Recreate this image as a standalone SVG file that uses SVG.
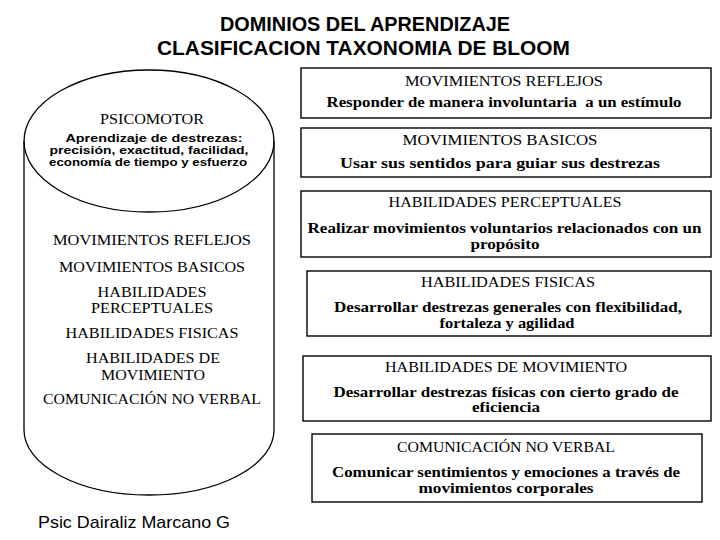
<svg xmlns="http://www.w3.org/2000/svg" width="720" height="540" viewBox="0 0 720 540">
<style>
.bg{fill:#ffffff}
.shape{fill:none;stroke:#000;stroke-width:1.3}
.box{fill:#fff;stroke:#000;stroke-width:1.4}
.title{font-family:"Liberation Sans",Arial,sans-serif;font-weight:bold;font-size:20px;fill:#000;text-anchor:middle}
.sans{font-family:"Liberation Sans",Arial,sans-serif;font-weight:bold;font-size:11.5px;fill:#000;text-anchor:middle}
.head{font-family:"Liberation Serif","Times New Roman",serif;font-size:14px;fill:#000;text-anchor:middle}
.desc{font-family:"Liberation Serif","Times New Roman",serif;font-weight:bold;font-size:14px;fill:#000;text-anchor:middle}
.foot{font-family:"Liberation Sans",Arial,sans-serif;font-size:17px;fill:#000}
</style>
<rect class="bg" x="0" y="0" width="720" height="540"/>

<g id="title">
<text class="title" x="365" y="31" textLength="290" lengthAdjust="spacingAndGlyphs">DOMINIOS DEL APRENDIZAJE</text>
<text class="title" x="363.5" y="55" textLength="413" lengthAdjust="spacingAndGlyphs">CLASIFICACION TAXONOMIA DE BLOOM</text>
</g>

<g id="psicomotor">
<path class="shape" d="M24,141 L24,430 A125,65 0 0 0 274,430 L274,141"/>
<ellipse class="shape" cx="149" cy="141" rx="125" ry="71"/>
<text class="head" x="152" y="124" textLength="104" lengthAdjust="spacingAndGlyphs">PSICOMOTOR</text>
<text class="sans" x="154" y="142" textLength="177" lengthAdjust="spacingAndGlyphs">Aprendizaje de destrezas:</text>
<text class="sans" x="149" y="154" textLength="199" lengthAdjust="spacingAndGlyphs">precisión, exactitud, facilidad,</text>
<text class="sans" x="148" y="166" textLength="198" lengthAdjust="spacingAndGlyphs">economía de tiempo y  esfuerzo</text>
<text class="head" x="152" y="245" textLength="198" lengthAdjust="spacingAndGlyphs">MOVIMIENTOS REFLEJOS</text>
<text class="head" x="152" y="272" textLength="186" lengthAdjust="spacingAndGlyphs">MOVIMIENTOS BASICOS</text>
<text class="head" x="152" y="297" textLength="109" lengthAdjust="spacingAndGlyphs">HABILIDADES</text>
<text class="head" x="152" y="313" textLength="122" lengthAdjust="spacingAndGlyphs">PERCEPTUALES</text>
<text class="head" x="152" y="338" textLength="173" lengthAdjust="spacingAndGlyphs">HABILIDADES FISICAS</text>
<text class="head" x="153" y="363" textLength="134" lengthAdjust="spacingAndGlyphs">HABILIDADES DE</text>
<text class="head" x="153" y="380" textLength="104" lengthAdjust="spacingAndGlyphs">MOVIMIENTO</text>
<text class="head" x="152" y="404" textLength="218" lengthAdjust="spacingAndGlyphs">COMUNICACIÓN NO VERBAL</text>
</g>

<g id="mov-reflejos">
<rect class="box" x="301" y="68" width="410" height="50"/>
<text class="head" x="504" y="86" textLength="198" lengthAdjust="spacingAndGlyphs">MOVIMIENTOS REFLEJOS</text>
<text class="desc" x="504" y="107" textLength="355" lengthAdjust="spacingAndGlyphs" style="white-space:pre">Responder de manera involuntaria  a un estímulo</text>
</g>

<g id="mov-basicos">
<rect class="box" x="301" y="128" width="410" height="49"/>
<text class="head" x="500" y="145" textLength="195" lengthAdjust="spacingAndGlyphs">MOVIMIENTOS BASICOS</text>
<text class="desc" x="500" y="168" textLength="320" lengthAdjust="spacingAndGlyphs">Usar sus sentidos para guiar sus destrezas</text>
</g>

<g id="hab-perceptuales">
<rect class="box" x="301" y="191" width="410" height="66"/>
<text class="head" x="505" y="207" textLength="233" lengthAdjust="spacingAndGlyphs">HABILIDADES PERCEPTUALES</text>
<text class="desc" x="504.5" y="233" textLength="394" lengthAdjust="spacingAndGlyphs">Realizar movimientos voluntarios relacionados con un</text>
<text class="desc" x="505" y="249" textLength="69" lengthAdjust="spacingAndGlyphs">propósito</text>
</g>

<g id="hab-fisicas">
<rect class="box" x="307" y="271" width="404" height="65"/>
<text class="head" x="508" y="287" textLength="174" lengthAdjust="spacingAndGlyphs">HABILIDADES FISICAS</text>
<text class="desc" x="508" y="312" textLength="348" lengthAdjust="spacingAndGlyphs">Desarrollar destrezas generales con flexibilidad,</text>
<text class="desc" x="507" y="328" textLength="135" lengthAdjust="spacingAndGlyphs">fortaleza y agilidad</text>
</g>

<g id="hab-movimiento">
<rect class="box" x="303" y="356" width="408" height="65"/>
<text class="head" x="506" y="372" textLength="242" lengthAdjust="spacingAndGlyphs">HABILIDADES DE MOVIMIENTO</text>
<text class="desc" x="506" y="397" textLength="345" lengthAdjust="spacingAndGlyphs">Desarrollar destrezas físicas con cierto grado de</text>
<text class="desc" x="506" y="412" textLength="68" lengthAdjust="spacingAndGlyphs">eficiencia</text>
</g>

<g id="com-no-verbal">
<rect class="box" x="312" y="434" width="390" height="68"/>
<text class="head" x="506" y="452" textLength="218" lengthAdjust="spacingAndGlyphs">COMUNICACIÓN NO VERBAL</text>
<text class="desc" x="506" y="477" textLength="348" lengthAdjust="spacingAndGlyphs">Comunicar sentimientos y emociones a través de</text>
<text class="desc" x="506" y="493" textLength="175" lengthAdjust="spacingAndGlyphs">movimientos corporales</text>
</g>

<g id="author">
<text class="foot" x="38" y="528" textLength="192" lengthAdjust="spacingAndGlyphs">Psic Dairaliz Marcano G</text>
</g>
</svg>
